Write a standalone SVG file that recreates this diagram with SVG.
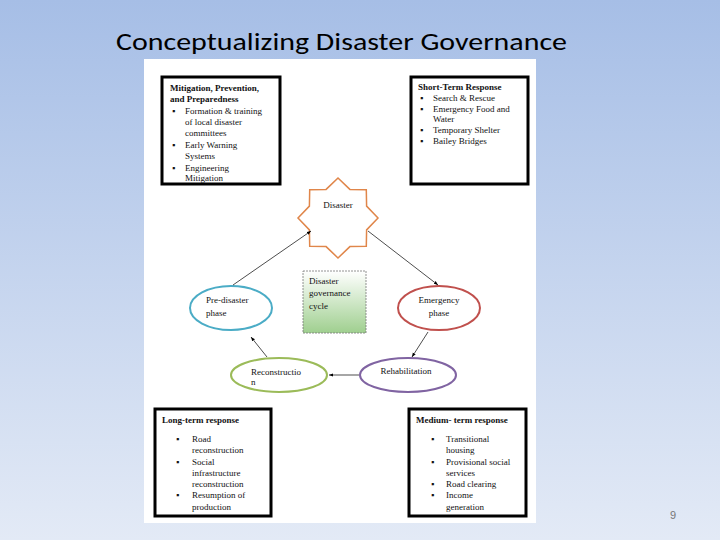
<svg xmlns="http://www.w3.org/2000/svg" width="720" height="540" viewBox="0 0 720 540">
<defs>
<linearGradient id="bg" x1="0" y1="0" x2="0" y2="1"><stop offset="0" stop-color="#a6bee6"/><stop offset="1" stop-color="#e3eaf6"/></linearGradient>
<linearGradient id="gc" x1="0" y1="0" x2="0" y2="1"><stop offset="0" stop-color="#ffffff"/><stop offset="1" stop-color="#9fcf8f"/></linearGradient>
<marker id="ar" viewBox="0 0 10 10" refX="10" refY="5" markerWidth="6" markerHeight="6" orient="auto"><path d="M0,1 L10,5 L0,9 z" fill="#000"/></marker>
<style>
.t{font-family:"Liberation Serif",serif;font-size:9px;fill:#111}
.b{font-weight:bold}
.box{fill:#fff;stroke:#000;stroke-width:3}
.c{stroke:#000;stroke-width:0.7;fill:none;marker-end:url(#ar)}
</style>
</defs>
<rect width="720" height="540" fill="url(#bg)"/>
<text x="116" y="50" textLength="451" lengthAdjust="spacingAndGlyphs" font-family="Calibri,'Liberation Sans',sans-serif" font-size="25" fill="#000">Conceptualizing Disaster Governance</text>
<rect x="144" y="59" width="392" height="464" fill="#fff"/>
<text x="673" y="519" text-anchor="middle" font-family="'Liberation Sans',sans-serif" font-size="11" fill="#777">9</text>

<g id="mitigation">
<rect class="box" x="162" y="77" width="118" height="107"/>
<text class="t b" x="170" y="91">Mitigation, Prevention,</text>
<text class="t b" x="170" y="102">and Preparedness</text>
<text class="t" x="172" y="114">▪</text><text class="t" x="185" y="114">Formation &amp; training</text>
<text class="t" x="185" y="125">of local disaster</text>
<text class="t" x="185" y="136">committees</text>
<text class="t" x="172" y="148">▪</text><text class="t" x="185" y="148">Early Warning</text>
<text class="t" x="185" y="159">Systems</text>
<text class="t" x="172" y="171">▪</text><text class="t" x="185" y="171">Engineering</text>
<text class="t" x="185" y="181">Mitigation</text>
</g>
<g id="shortterm">
<rect class="box" x="411" y="77" width="117" height="107"/>
<text class="t b" x="418" y="90">Short-Term Response</text>
<text class="t" x="420" y="101">▪</text><text class="t" x="433" y="101">Search &amp; Rescue</text>
<text class="t" x="420" y="112">▪</text><text class="t" x="433" y="112">Emergency Food and</text>
<text class="t" x="433" y="122">Water</text>
<text class="t" x="420" y="133">▪</text><text class="t" x="433" y="133">Temporary Shelter</text>
<text class="t" x="420" y="144">▪</text><text class="t" x="433" y="144">Bailey Bridges</text>
</g>
<g id="longterm">
<rect class="box" x="155" y="409" width="116" height="107"/>
<text class="t b" x="162" y="423">Long-term response</text>
<text class="t" x="176" y="442">▪</text><text class="t" x="192" y="442">Road</text>
<text class="t" x="192" y="453">reconstruction</text>
<text class="t" x="176" y="465">▪</text><text class="t" x="192" y="465">Social</text>
<text class="t" x="192" y="476">infrastructure</text>
<text class="t" x="192" y="487">reconstruction</text>
<text class="t" x="176" y="498">▪</text><text class="t" x="192" y="498">Resumption of</text>
<text class="t" x="192" y="510">production</text>
</g>
<g id="mediumterm">
<rect class="box" x="409" y="409" width="117" height="107"/>
<text class="t b" x="416" y="423">Medium- term response</text>
<text class="t" x="431" y="442">▪</text><text class="t" x="446" y="442">Transitional</text>
<text class="t" x="446" y="453">housing</text>
<text class="t" x="431" y="465">▪</text><text class="t" x="446" y="465">Provisional social</text>
<text class="t" x="446" y="476">services</text>
<text class="t" x="431" y="487">▪</text><text class="t" x="446" y="487">Road clearing</text>
<text class="t" x="431" y="498">▪</text><text class="t" x="446" y="498">Income</text>
<text class="t" x="446" y="510">generation</text>
</g>
<g id="disaster">
<polygon points="338,178 349.9,189.4 366.3,189.7 366.6,206.1 378,218 366.6,229.9 366.3,246.3 349.9,246.6 338,258 326.1,246.6 309.7,246.3 309.4,229.9 298,218 309.4,206.1 309.7,189.7 326.1,189.4" fill="#fff" stroke="#e0864a" stroke-width="1.5"/>
<text class="t" x="338" y="208" text-anchor="middle">Disaster</text>
</g>
<g id="cycle">
<rect x="303" y="271" width="63" height="62" fill="url(#gc)" stroke="#777" stroke-width="0.8" stroke-dasharray="2,1"/>
<text class="t" x="309" y="284">Disaster</text>
<text class="t" x="309" y="296">governance</text>
<text class="t" x="309" y="309">cycle</text>
</g>
<g id="predisaster">
<ellipse cx="231" cy="308" rx="41" ry="22" fill="#fff" stroke="#4bacc6" stroke-width="2"/>
<text class="t" x="206" y="303">Pre-disaster</text>
<text class="t" x="206" y="316">phase</text>
</g>
<g id="emergency">
<ellipse cx="439" cy="308" rx="41" ry="22" fill="#fff" stroke="#c0504d" stroke-width="2"/>
<text class="t" x="439" y="303" text-anchor="middle">Emergency</text>
<text class="t" x="439" y="316" text-anchor="middle">phase</text>
</g>
<g id="rehabilitation">
<ellipse cx="408" cy="375" rx="48" ry="17" fill="#fff" stroke="#8064a2" stroke-width="2"/>
<text class="t" x="406" y="374" text-anchor="middle">Rehabilitation</text>
</g>
<g id="reconstruction">
<ellipse cx="279" cy="375" rx="48" ry="17" fill="#fff" stroke="#9bbb59" stroke-width="2"/>
<text class="t" x="251" y="375">Reconstructio</text>
<text class="t" x="251" y="385">n</text>
</g>
<g id="connectors">
<line class="c" x1="233" y1="285" x2="311" y2="231"/>
<line class="c" x1="368" y1="231" x2="438" y2="285"/>
<line class="c" x1="428" y1="332" x2="412" y2="357"/>
<line class="c" x1="359" y1="375" x2="329" y2="375"/>
<line class="c" x1="267" y1="357" x2="251" y2="337"/>
</g>
</svg>
